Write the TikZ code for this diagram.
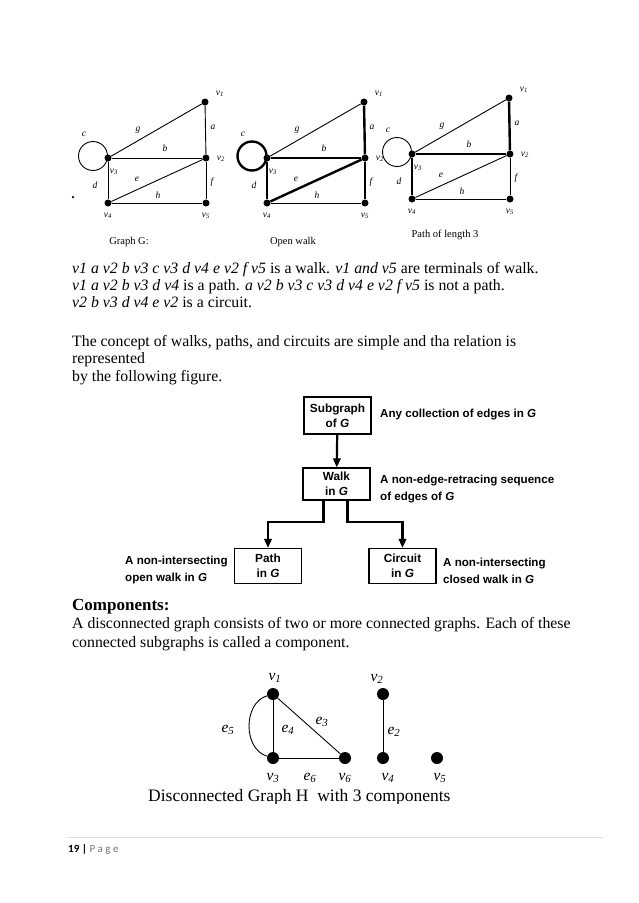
\documentclass[tikz,border=0pt]{standalone}
\usepackage{fontspec}
\setmainfont{Liberation Serif}
\newfontfamily\flowfont{Liberation Sans}
\newfontfamily\footfont{Carlito}
\usepackage{tikz}
\usetikzlibrary{positioning,arrows.meta}
\newcommand{\vv}[1]{\textit{v}\textsubscript{\textit{#1}}}
\newcommand{\ee}[1]{\textit{e}\textsubscript{\textit{#1}}}

\begin{document}
\begin{tikzpicture}[x=1pt, y=-1pt,
  every node/.style={inner sep=0pt},
  vert/.style={circle, fill, inner sep=0pt, minimum size=7},
  bigvert/.style={circle, fill, inner sep=0pt, minimum size=12},
  lbl/.style={font=\fontsize{9.5}{10}\selectfont\itshape},
  captxt/.style={font=\fontsize{10.5}{12}\selectfont},
  body/.style={anchor=base west, font=\fontsize{15.8}{17}\selectfont},
  hlbl/.style={font=\fontsize{15.5}{17}\selectfont},
  thinedge/.style={line width=0.9},
  heavy/.style={line width=2.4},
  edgea/.style={thinedge}, edgeb/.style={thinedge}, edgec/.style={thinedge},
  edged/.style={thinedge}, edgee/.style={thinedge}, edgef/.style={thinedge},
  edgeg/.style={thinedge}, edgeh/.style={thinedge},
  box/.style={draw, line width=1.3, minimum width=67, minimum height=35, align=center, font=\flowfont\bfseries\fontsize{11.8}{15}\selectfont},
  note/.style={align=left, font=\flowfont\bfseries\fontsize{11.6}{16.5}\selectfont},
  flow/.style={line width=2.2, -{Triangle[length=9pt,width=7.5pt]}},
  graphG/.pic={
    \node[vert] (-v1) at (97,-56) {};
    \node[vert] (-v2) at (98,0) {};
    \node[vert] (-v3) at (0,0) {};
    \node[vert] (-v4) at (0,45) {};
    \node[vert] (-v5) at (98,45) {};
    \draw[edgec] (-15,-2) circle[radius=14.5];
    \draw[edgeg] (-v3) -- (-v1);
    \draw[edgea] (-v1) -- (-v2);
    \draw[edgeb] (-v3) -- (-v2);
    \draw[edged] (-v3) -- (-v4);
    \draw[edgee] (-v4) -- (-v2);
    \draw[edgef] (-v2) -- (-v5);
    \draw[edgeh] (-v4) -- (-v5);
    \node[lbl] (-lv1) at (112,-64) {\vv{1}};
    \node[lbl] (-lv2) at (113,1) {\vv{2}};
    \node[lbl] (-lv3) at (6,14) {\vv{3}};
    \node[lbl] (-lv4) at (0,58) {\vv{4}};
    \node[lbl] (-lv5) at (98,58) {\vv{5}};
    \node[lbl] (-la) at (105,-31) {a};
    \node[lbl] (-lb) at (57,-10) {b};
    \node[lbl] (-lc) at (-24,-24) {c};
    \node[lbl] (-ld) at (-13,27) {d};
    \node[lbl] (-le) at (29,21) {e};
    \node[lbl] (-lf) at (104,24) {f};
    \node[lbl] (-lg) at (30,-28) {g};
    \node[lbl] (-lh) at (50,37) {h};
  }
]
\useasboundingbox (0,0) rectangle (638,903);

% Top row: graph G, an open walk, a path
\pic (gg) at (108,158) {graphG};
\pic[edgea/.style={heavy}, edgeb/.style={heavy}, edgec/.style={heavy},
     edged/.style={heavy}, edgee/.style={heavy}, edgef/.style={heavy}] (ow) at (267,158) {graphG};
\pic[edgea/.style={heavy}, edgeb/.style={heavy}, edged/.style={heavy}] (pl) at (412,154) {graphG};
\node[circle, fill, minimum size=2.5] (speck) at (73,197) {};
\node[captxt] (capG) at (129,242) {Graph G:};
\node[captxt] (capW) at (293,242) {Open walk};
\node[captxt] (capP) at (445,235) {Path of length 3};

% Text
\node[body] (l1) at (72,273) {\textit{v1 a v2 b v3 c v3 d v4 e v2 f v5} is a walk. \textit{v1 and v5} are terminals of walk.};
\node[body] (l2) at (72,290) {\textit{v1 a v2 b v3 d v4} is a path. \textit{a v2 b v3 c v3 d v4 e v2 f v5} is not a path.};
\node[body] (l3) at (72,307) {\textit{v2 b v3 d v4 e v2} is a circuit.};
\node[body] (l4) at (72,346) {The concept of walks, paths, and circuits are simple and tha relation is};
\node[body] (l5) at (72,363) {represented};
\node[body] (l6) at (72,381) {by the following figure.};

% Flowchart
\node[box, minimum height=37] (sub) at (337.5,415.5) {Subgraph\\of \textit{G}};
\node[box, minimum height=32] (walk) at (336.5,484) {Walk\\in \textit{G}};
\node[box] (path) at (268,566) {Path\\in \textit{G}};
\node[box] (circ) at (402.5,566) {Circuit\\in \textit{G}};
\draw[flow] (sub) -- (walk);
\draw[flow] ([xshift=-13]walk.south) -- ++(0,21) -| (path.north);
\draw[flow] ([xshift=11]walk.south) -- ++(0,21) -| (circ.north);
\node[note, anchor=west] (nsub) at (380,415) {Any collection of edges in \textit{G}};
\node[note, anchor=west] (nwalk) at (380,489) {A non-edge-retracing sequence\\of edges of \textit{G}};
\node[note, anchor=west] (npath) at (125,570) {A non-intersecting\\open walk in \textit{G}};
\node[note, anchor=west] (ncirc) at (443,571) {A non-intersecting\\closed walk in \textit{G}};

% Components
\node[body, font=\fontsize{17}{19}\selectfont\bfseries] (comp) at (72,610) {Components:};
\node[body] (l7) at (72,628) {A disconnected graph consists of two or more connected graphs. Each of these};
\node[body] (l8) at (72,647) {connected subgraphs is called a component.};

% Graph H
\node[bigvert] (h1) at (273,694) {};
\node[bigvert] (h3) at (273,758) {};
\node[bigvert] (h6) at (345,758) {};
\node[bigvert] (h2) at (383,694) {};
\node[bigvert] (h4) at (383,758) {};
\node[bigvert] (h5) at (437,758) {};
\draw[thinedge] (h1) .. controls (243,703) and (243,749) .. (h3);
\draw[thinedge] (h1) -- (h3);
\draw[thinedge] (h1) -- (h6);
\draw[thinedge] (h3) -- (h6);
\draw[thinedge] (h2) -- (h4);
\node[hlbl] (lh1) at (275,678) {\vv{1}};
\node[hlbl] (lh2) at (377,679) {\vv{2}};
\node[hlbl] (lh3) at (273,778) {\vv{3}};
\node[hlbl] (lh6) at (345,778) {\vv{6}};
\node[hlbl] (lh4) at (388,778) {\vv{4}};
\node[hlbl] (lh5) at (440,778) {\vv{5}};
\node[hlbl] (le5) at (228,730) {\ee{5}};
\node[hlbl] (le4) at (288,730) {\ee{4}};
\node[hlbl] (le3) at (322,722) {\ee{3}};
\node[hlbl] (le2) at (394,732) {\ee{2}};
\node[hlbl] (le6) at (310,778) {\ee{6}};
\begin{scope}
  \clip (0,0) rectangle (638,803);
  \node[body, font=\fontsize{17.5}{19}\selectfont] (capH) at (148,801) {Disconnected Graph H\ \ with 3 components};
\end{scope}

% Footer
\coordinate (footl) at (66,837);
\coordinate (footr) at (603,837);
\draw[black!12, line width=0.8] (footl) -- (footr);
\node[anchor=base west, font=\footfont\fontsize{11}{13}\selectfont] (pagenum) at (68,852) {\textbf{19} \textbf{|} \textcolor{black!55}{P a g e}};
\end{tikzpicture}
\end{document}
